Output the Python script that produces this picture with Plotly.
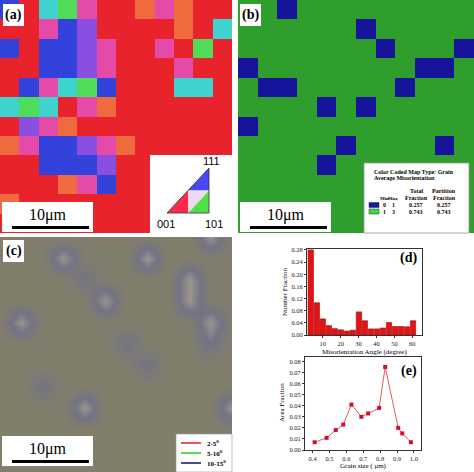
import plotly.graph_objects as go

W, H = 474, 472

# (d) misorientation angle distribution
angle_centers = [3.3, 6.7, 10.0, 13.4, 16.7, 20.1, 23.5, 26.8, 30.2, 33.5,
                 36.9, 40.3, 43.6, 47.0, 50.4, 53.7, 57.1, 60.4]
number_fraction = [0.280, 0.106, 0.053, 0.031, 0.021, 0.017, 0.013, 0.016, 0.076, 0.047,
                   0.020, 0.020, 0.023, 0.041, 0.028, 0.028, 0.027, 0.047]

# (e) grain size distribution
grain_size = [0.412, 0.483, 0.537, 0.582, 0.630, 0.689, 0.729, 0.794, 0.830, 0.907, 0.931, 0.982]
area_fraction = [0.007, 0.011, 0.018, 0.023, 0.041, 0.030, 0.033, 0.038, 0.075, 0.020, 0.015, 0.007]

# (a) coarse IPF colour map (R red, O orange, P pink, B blue,
# V violet, C cyan, G green)
ipf_rows = [
    "BRCGPRROPORR",
    "RRPBVRRRRORC",
    "BRBBVPRRPRGR",
    "RRBBVPRRRPRR",
    "RBPCGBRRRCCR",
    "CGCRPORRRRRR",
    "RVPORRRRRRRR",
    "OPBBVPORRRRR",
    "RRBBBVRRRRRR",
    "RRROPBRRRRRR",
    "ORRRRRRRRRRR",
    "RRRRRRRRRRRR",
]
ipf_codes = "ROPBVCG"
ipf_colors = ["#e8232b", "#ef6a3c", "#e44aa8", "#3442dc", "#8a4fe0", "#3fd3cf", "#4fdc58"]

# (b) grain average misorientation map: 1 = 0-1 deg (blue), 0 = 1-3 deg (green)
gam_rows = [
    "001000000000",
    "000000100000",
    "000000010001",
    "100000000110",
    "011000001000",
    "000010100000",
    "100000000000",
    "000001000010",
    "000010000000",
    "000000000000",
    "000000000000",
    "000000000000",
]

# (c) boundary map tone: 0 mixed boundaries, 1 dense high-angle (blue) network, 2 light grains
gb_rows = [
    "000000000020",
    "000200020000",
    "000010000200",
    "000002000200",
    "020000000020",
    "000000100010",
    "000000010000",
    "001000000000",
    "000020000002",
    "000000000000",
    "000000000000",
    "000000000000",
]


def px(x):
    return x / W


def py(y):
    return 1 - y / H


fig = go.Figure()

# map panels
z_ipf = [[ipf_codes.index(c) for c in row] for row in ipf_rows]
n = len(ipf_colors)
cs_ipf = []
for i, c in enumerate(ipf_colors):
    cs_ipf += [[i / n, c], [(i + 1) / n, c]]
fig.add_trace(go.Heatmap(z=z_ipf, zmin=-0.5, zmax=n - 0.5, colorscale=cs_ipf, showscale=False,
                         hoverinfo="skip", xaxis="x", yaxis="y"))

z_gam = [[int(c) for c in row] for row in gam_rows]
fig.add_trace(go.Heatmap(z=z_gam, zmin=0, zmax=1, showscale=False, hoverinfo="skip",
                         colorscale=[[0, "#2f9e2c"], [0.5, "#2f9e2c"], [0.5, "#15149a"], [1, "#15149a"]],
                         xaxis="x2", yaxis="y2"))

z_gb = [[int(c) for c in row] for row in gb_rows]
fig.add_trace(go.Heatmap(z=z_gb, zmin=0, zmax=2, showscale=False, hoverinfo="skip", zsmooth="best",
                         colorscale=[[0, "#827e6c"], [0.5, "#737385"], [1, "#9c968c"]],
                         xaxis="x3", yaxis="y3"))

# (d) histogram
fig.add_trace(go.Bar(x=angle_centers, y=number_fraction, width=3.0,
                     marker=dict(color="#e31313", line=dict(color="#9e0d0d", width=0.6)),
                     xaxis="x4", yaxis="y4", showlegend=False))

# (e) line
fig.add_trace(go.Scatter(x=grain_size, y=area_fraction, mode="lines+markers",
                         line=dict(color="#e85a5a", width=1),
                         marker=dict(symbol="square", size=4, color="#d0102a"),
                         xaxis="x5", yaxis="y5", showlegend=False))

hidden = dict(visible=False, showgrid=False, zeroline=False)
tick_font = dict(family="Liberation Serif", size=6.5, color="#222")
chart_axis = dict(showline=True, linecolor="#333", linewidth=0.8, mirror=True, ticks="outside",
                  ticklen=2, tickcolor="#333", showgrid=False, zeroline=False, tickfont=tick_font,
                  automargin=False)

fig.update_layout(
    width=W, height=H,
    margin=dict(l=0, r=0, t=0, b=0),
    paper_bgcolor="white", plot_bgcolor="white",
    showlegend=False,
    xaxis=dict(domain=[0, px(232)], range=[-0.5, 11.5], **hidden),
    yaxis=dict(domain=[py(233), 1], range=[11.5, -0.5], **hidden),
    xaxis2=dict(domain=[px(238), 1], range=[-0.5, 11.5], **hidden),
    yaxis2=dict(domain=[py(233), 1], range=[11.5, -0.5], **hidden),
    xaxis3=dict(domain=[0, px(232)], range=[0, 11], **hidden),
    yaxis3=dict(domain=[0, py(237)], range=[11, 0], **hidden),
    xaxis4=dict(domain=[px(307), px(422)], range=[1.2, 65.4], tickvals=[10, 20, 30, 40, 50, 60],
                anchor="y4", **chart_axis),
    yaxis4=dict(domain=[py(335), py(249)], range=[0, 0.283], tickvals=[i * 0.04 for i in range(8)],
                tickformat=".2f", anchor="x4", **chart_axis),
    xaxis5=dict(domain=[px(305), px(421)], range=[0.355, 1.042], tickvals=[0.4, 0.5, 0.6, 0.7, 0.8, 0.9, 1.0],
                tickformat=".1f", anchor="y5", **chart_axis),
    yaxis5=dict(domain=[py(450), py(357)], range=[0, 0.084], tickvals=[i * 0.01 for i in range(9)],
                tickformat=".2f", anchor="x5", **chart_axis),
)

shapes = []
ann = []


def rect(x0, y0, x1, y1, fill, line=None, lw=0):
    shapes.append(dict(type="rect", xref="paper", yref="paper", x0=px(x0), x1=px(x1), y0=py(y1), y1=py(y0),
                       fillcolor=fill, line=dict(color=line or fill, width=lw), layer="above"))


def text(x, y, s, size=8, bold=False, family="Liberation Serif", anchor="center", color="black", angle=0):
    if bold:
        s = "<b>" + s + "</b>"
    ann.append(dict(x=px(x), y=py(y), xref="paper", yref="paper", text=s, showarrow=False, textangle=angle,
                    font=dict(family=family, size=size, color=color), xanchor=anchor, yanchor="middle"))


# axis titles of the two charts
text(364, 352, "Misorientation Angle (degree)", size=7)
text(285, 292, "Number Fraction", size=7, angle=-90)
text(363, 466, "Grain size ( μm)", size=7)
text(282, 403, "Area Fraction", size=7, angle=-90)

# panel labels
for (x0, y0), lab in [((3, 4), "(a)"), ((240, 4), "(b)"), ((3, 240), "(c)")]:
    rect(x0, y0, x0 + 21, y0 + 22, "white")
    text(x0 + 10.5, y0 + 11.5, lab, size=14, bold=True)
text(408, 258, "(d)", size=14, bold=True)
text(409, 371, "(e)", size=14, bold=True)

# scale bars
for x0, y0 in [(2, 202), (240, 202), (2, 436)]:
    rect(x0, y0, x0 + 91, y0 + 30, "white")
    text(x0 + 46, y0 + 13, "10μm", size=16)
    rect(x0 + 10, y0 + 24, x0 + 87, y0 + 27, "black")

# (a) IPF key
rect(150, 155, 232, 233, "white")
A, Bp, C = (167, 213), (209, 213), (209, 168)
mAB = ((A[0] + Bp[0]) / 2, A[1])
mAC = ((A[0] + C[0]) / 2, (A[1] + C[1]) / 2)
mBC = (Bp[0], (Bp[1] + C[1]) / 2)


def tri(p, q, r, fill, line=None):
    path = "M {} {} L {} {} L {} {} Z".format(px(p[0]), py(p[1]), px(q[0]), py(q[1]), px(r[0]), py(r[1]))
    shapes.append(dict(type="path", xref="paper", yref="paper", path=path, fillcolor=fill,
                       line=dict(width=0.8 if line else 0, color=line or fill), layer="above"))


tri(A, mAB, mAC, "#ff2a4a")
tri(mAB, Bp, mBC, "#52e04a")
tri(mAC, mBC, C, "#4848f4")
tri(mAB, mBC, mAC, "#f0d8f0")
tri(A, Bp, C, "rgba(0,0,0,0)", line="#333")
text(211, 161, "111", size=11, family="Liberation Sans")
text(166, 224, "001", size=11, family="Liberation Sans")
text(214, 224, "101", size=11, family="Liberation Sans")

# (b) GAM legend
rect(364, 163, 469, 233, "white", line="#999", lw=0.8)
text(372, 172, "Color Coded Map Type: Grain", size=6, bold=True, anchor="left")
text(372, 178.5, "Average Misorientation", size=6, bold=True, anchor="left")
text(416, 191, "Total", size=6, bold=True)
text(444, 191, "Partition", size=6, bold=True)
text(384, 198, "Min", size=5, bold=True)
text(393, 198, "Max", size=5, bold=True)
text(416, 198, "Fraction", size=6, bold=True)
text(444, 198, "Fraction", size=6, bold=True)
for i, (lo, hi, frac, col) in enumerate([("0", "1", "0.257", "#1515b0"), ("1", "3", "0.743", "#3cdc3c")]):
    yy = 205 + i * 6.5
    rect(369, yy - 2.5, 379, yy + 2.5, col, line="#333", lw=0.5)
    text(384, yy, lo, size=6, bold=True)
    text(393, yy, hi, size=6, bold=True)
    text(416, yy, frac, size=6, bold=True)
    text(444, yy, frac, size=6, bold=True)

# (c) boundary legend
rect(176, 434, 232, 472, "white", line="#999", lw=0.6)
for i, (lab, col) in enumerate([("2-5<sup>0</sup>", "#e02020"), ("5-10<sup>0</sup>", "#20d020"),
                                ("10-15<sup>0</sup>", "#101060")]):
    yy = 443 + i * 10
    shapes.append(dict(type="line", xref="paper", yref="paper", x0=px(181), x1=px(201), y0=py(yy), y1=py(yy),
                       line=dict(color=col, width=1.5), layer="above"))
    text(205, yy, lab, size=7, bold=True, anchor="left")

fig.update_layout(shapes=shapes, annotations=ann)
fig.write_html("out.html", config={"displayModeBar": False},
               post_script="document.body.style.margin='0';")
